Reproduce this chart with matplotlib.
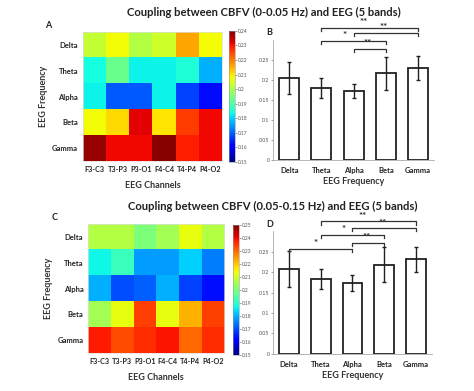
import numpy as np
import matplotlib
matplotlib.use("Agg")
import matplotlib.pyplot as plt

plt.rcParams['font.family'] = ['Lato', 'DejaVu Sans']

# data
bands = ["Delta", "Theta", "Alpha", "Beta", "Gamma"]
channels = ["F3-C3", "T3-P3", "P3-O1", "F4-C4", "T4-P4", "P4-O2"]

heat_low = [[0.203, 0.208, 0.201, 0.204, 0.216, 0.208],
            [0.184, 0.193, 0.183, 0.183, 0.185, 0.177],
            [0.183, 0.169, 0.169, 0.183, 0.167, 0.162],
            [0.208, 0.211, 0.232, 0.210, 0.226, 0.231],
            [0.238, 0.231, 0.231, 0.239, 0.229, 0.231]]
heat_high = [[0.207, 0.207, 0.200, 0.205, 0.213, 0.207],
             [0.187, 0.192, 0.178, 0.178, 0.183, 0.175],
             [0.180, 0.170, 0.172, 0.180, 0.169, 0.164],
             [0.205, 0.213, 0.234, 0.213, 0.222, 0.234],
             [0.238, 0.233, 0.236, 0.239, 0.230, 0.236]]

mean_low = [0.204, 0.180, 0.172, 0.216, 0.229]
err_low = [0.040, 0.025, 0.018, 0.042, 0.030]
mean_high = [0.208, 0.183, 0.173, 0.218, 0.232]
err_high = [0.043, 0.025, 0.020, 0.043, 0.031]

# significance: (from, to, height, label, label x)
sig_low = [(2, 5, 0.330, "**", 3.31), (3, 5, 0.3175, "**", 3.94),
           (2, 4, 0.2975, "*", 2.72), (3, 4, 0.2775, "**", 3.44)]
sig_high = [(2, 5, 0.325, "**", 3.31), (3, 5, 0.308, "**", 3.94),
            (2, 4, 0.292, "*", 2.72), (3, 4, 0.272, "**", 3.44),
            (1, 3, 0.258, "*", 1.84)]

fig = plt.figure(figsize=(4.74, 3.91), dpi=100)


def heatmap(rect, crect, vals, vmax, letter):
    ax = fig.add_axes(rect)
    im = ax.imshow(np.array(vals), cmap="jet", vmin=0.15, vmax=vmax,
                   aspect="auto", interpolation="nearest")
    ax.set_xticks(range(len(channels)))
    ax.set_xticklabels(channels, fontsize=5.2, fontweight="bold", color="#222222")
    ax.set_yticks(range(len(bands)))
    ax.set_yticklabels(bands, fontsize=5.5, fontweight="bold", color="#222222")
    ax.tick_params(length=0, pad=3.5)
    for s in ax.spines.values():
        s.set_color("#dddddd")
        s.set_linewidth(0.5)
    ax.set_xlabel("EEG Channels", fontsize=6.5, fontweight="bold", color="#333333", labelpad=6)
    ax.set_ylabel("EEG Frequency", fontsize=6.5, fontweight="bold", color="#333333", labelpad=3)
    ax.text(-0.27, 1.03, letter, transform=ax.transAxes, fontsize=6.5,
            fontweight="bold", color="#222222")
    cax = fig.add_axes(crect)
    cb = fig.colorbar(im, cax=cax)
    ticks = np.arange(0.15, vmax + 0.001, 0.01)
    cb.set_ticks(ticks)
    cb.ax.set_yticklabels(["%g" % round(t, 2) for t in ticks])
    cb.ax.tick_params(labelsize=3.5, length=1.2, width=0.4, pad=0.5, colors="#555555")
    cb.outline.set_linewidth(0.4)
    cb.outline.set_edgecolor("#999999")


def bars(rect, means, errs, sigs, letter):
    ax = fig.add_axes(rect)
    x = np.arange(1, len(bands) + 1)
    ax.bar(x, means, width=0.62, color="white", edgecolor="#222222", linewidth=1.3)
    ax.errorbar(x, means, yerr=errs, fmt="none", ecolor="#222222",
                elinewidth=1.0, capsize=1.5, capthick=1.0)
    ax.set_xlim(0.5, 5.5)
    ax.set_ylim(0, 0.3)
    ax.set_yticks([0, 0.05, 0.1, 0.15, 0.2, 0.25])
    ax.set_yticklabels(["0", "0.05", "0.1", "0.15", "0.2", "0.25"])
    ax.set_xticks(x)
    ax.set_xticklabels(bands, fontsize=5.5, fontweight="bold", color="#222222")
    ax.tick_params(axis="x", length=0, pad=5)
    ax.tick_params(axis="y", labelsize=3.8, length=1.5, width=0.4, pad=1, colors="#555555")
    for s in ["top", "right"]:
        ax.spines[s].set_visible(False)
    for s in ["left", "bottom"]:
        ax.spines[s].set_color("#aaaaaa")
        ax.spines[s].set_linewidth(0.6)
    ax.set_xlabel("EEG Frequency", fontsize=6.5, fontweight="bold", color="#333333", labelpad=2)
    for a, b, h, lab, tx in sigs:
        ax.plot([a, a, b, b], [h - 0.008, h, h, h - 0.008], color="#333333",
                lw=0.9, clip_on=False)
        ax.text(tx, h + 0.001, lab, ha="center", va="bottom", fontsize=7,
                fontweight="bold", color="#333333", clip_on=False)
    ax.text(-0.04, 1.04, letter, transform=ax.transAxes, fontsize=6.5,
            fontweight="bold", color="#222222")


fig.text(0.557, 0.968, "Coupling between CBFV (0-0.05 Hz) and EEG (5 bands)",
         ha="center", va="center", fontsize=8.1, fontweight="bold", color="#222222")
fig.text(0.576, 0.471, "Coupling between CBFV (0.05-0.15 Hz) and EEG (5 bands)",
         ha="center", va="center", fontsize=8.1, fontweight="bold", color="#222222")

heatmap([0.175, 0.588, 0.293, 0.330], [0.483, 0.586, 0.013, 0.335], heat_low, 0.24, "A")
bars([0.576, 0.591, 0.340, 0.307], mean_low, err_low, sig_low, "B")
heatmap([0.186, 0.097, 0.287, 0.330], [0.492, 0.092, 0.013, 0.333], heat_high, 0.25, "C")
bars([0.576, 0.095, 0.335, 0.313], mean_high, err_high, sig_high, "D")

fig.savefig("out.png", dpi=100)
